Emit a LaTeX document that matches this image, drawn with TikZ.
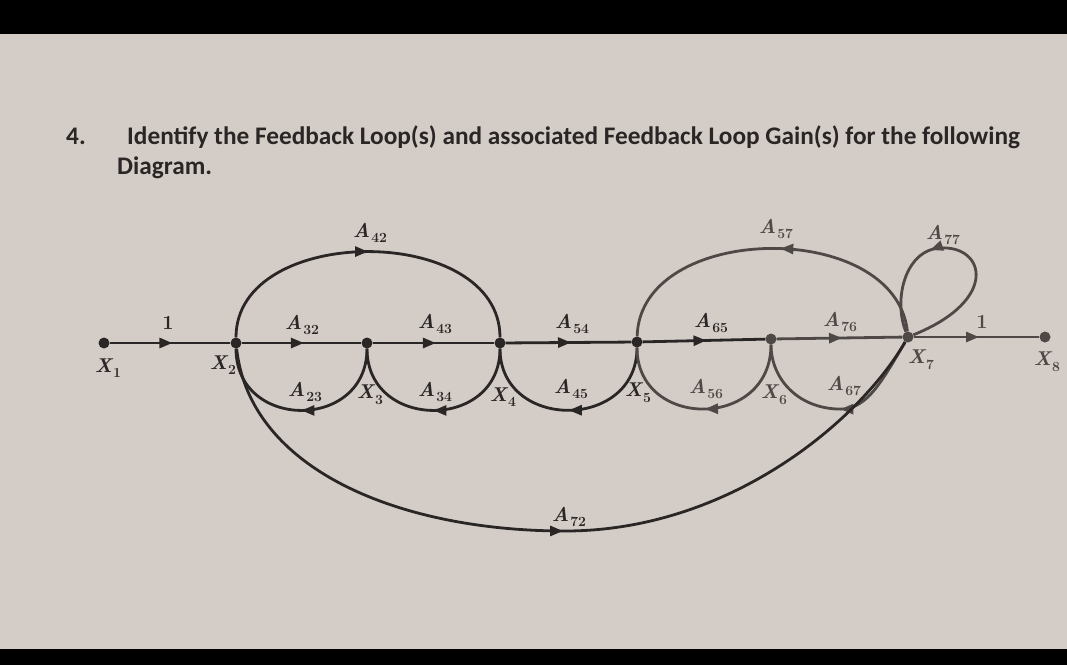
\documentclass[tikz,border=0pt]{standalone}
\usepackage{fontspec}
\newfontfamily\calibri{Carlito}
\usetikzlibrary{arrows.meta,decorations.markings}
\definecolor{paper}{RGB}{212,205,199}
\definecolor{ink}{RGB}{42,38,38}
\definecolor{inkl}{RGB}{78,73,71}
\newcommand{\glab}[2]{{\bfseries\itshape #1}\kern1pt\raisebox{-0.28em}{\fontsize{14}{14}\selectfont\bfseries\upshape #2}}
\tikzset{
  dot/.style={circle, fill=ink, inner sep=0pt, minimum size=11pt},
  dotl/.style={circle, fill=inkl, inner sep=0pt, minimum size=11pt},
  flow/.style={draw=ink, line width=2.8pt, postaction={decorate},
    decoration={markings, mark=at position #1 with {\arrow{Triangle[length=13pt,width=10pt]}}}},
  flow/.default=0.52,
  flowl/.style={flow=#1, draw=inkl},
  flowl/.default=0.52,
  lbl/.style={font=\fontsize{20}{22}\selectfont, text=ink, inner sep=0pt},
  lbll/.style={lbl, text=inkl},
  ttl/.style={anchor=base west, inner sep=0pt, text=ink, font=\calibri\bfseries\fontsize{25.3}{30}\selectfont},
}
\begin{document}
\begin{tikzpicture}[x=1pt,y=-1pt]
\fill[paper] (0,0) rectangle (1067,665);
\fill[black] (0,0) rectangle (1067,34);
\fill[black] (0,649) rectangle (1067,665);
\useasboundingbox (0,0) rectangle (1067,665);

% title
\node[ttl] (num) at (66,144) {4.};
\node[ttl] (t1) at (127,144) {Identify the Feedback Loop(s) and associated Feedback Loop Gain(s) for the following};
\node[ttl] (t2) at (117,174) {Diagram.};

% nodes
\node[dot] (X1) at (104,343) {};
\node[dot] (X2) at (236,343) {};
\node[dot] (X3) at (367,343) {};
\node[dot] (X4) at (500,343) {};
\node[dot] (X5) at (637,342) {};
\node[dotl] (X6) at (771,339) {};
\node[dotl] (X7) at (908,337) {};
\node[dotl] (X8) at (1045,337) {};

% forward branches
\draw[flow] (X1) -- (X2);
\draw[flow] (X2) -- (X3);
\draw[flow] (X3) -- (X4);
\draw[flow] (X4) -- (X5);
\draw[flow] (X5) -- (X6);
\draw[flowl] (X6) -- (X7);
\draw[flowl] (X7) -- (X8);

% upper arcs
\draw[flow=0.5] (X2) .. controls (236,223) and (500,223) .. (X4);
\draw[flowl=0.47] (X7) .. controls (895,218) and (640,222) .. (X5);
% self loop
\draw[flowl=0.62] (X7) .. controls (1000,300) and (985,245) .. (940,248)
   .. controls (905,250) and (893,300) .. (X7);

% lower arcs (feedback)
\draw[flow=0.5] (X3) .. controls (367,431) and (236,431) .. (X2);
\draw[flow=0.5] (X4) .. controls (500,431) and (367,431) .. (X3);
\draw[flow=0.5] (X5) .. controls (637,431) and (500,431) .. (X4);
\draw[flowl=0.5] (X6) .. controls (771,430) and (637,430) .. (X5);
\draw[flowl=0.48] (X7) .. controls (880,385) and (868,405) .. (845,409)
   .. controls (800,411) and (771,380) .. (X6);

% big lower arc
\draw[flow=0.5] (X2) .. controls (250,470) and (400,531) .. (565,531)
   .. controls (730,531) and (860,420) .. (X7);

% branch labels
\node[lbl] (g21) at (168,323) {\bfseries 1};
\node[lbl] (g32) at (302,325) {\glab{A}{32}};
\node[lbl] (g43) at (435,324) {\glab{A}{43}};
\node[lbl] (g54) at (572,324) {\glab{A}{54}};
\node[lbl] (g65) at (711,323) {\glab{A}{65}};
\node[lbll] (g76) at (840,322) {\glab{A}{76}};
\node[lbll] (g87) at (982,322) {\bfseries 1};
\node[lbl] (g42) at (370,233) {\glab{A}{42}};
\node[lbll] (g57) at (776,229) {\glab{A}{57}};
\node[lbll] (g77) at (943,235) {\glab{A}{77}};
\node[lbl] (g23) at (305,392) {\glab{A}{23}};
\node[lbl] (g34) at (435,392) {\glab{A}{34}};
\node[lbl] (g45) at (571,389) {\glab{A}{45}};
\node[lbll] (g56) at (706,389) {\glab{A}{56}};
\node[lbll] (g67) at (844,386) {\glab{A}{67}};
\node[lbl] (g72) at (569,517) {\glab{A}{72}};

% node labels
\node[lbl] (n1) at (108,368) {\glab{X}{1}};
\node[lbl] (n2) at (223,365) {\glab{X}{2}};
\node[lbl] (n3) at (370,395) {\glab{X}{3}};
\node[lbl] (n4) at (503,397) {\glab{X}{4}};
\node[lbl] (n5) at (638,393) {\glab{X}{5}};
\node[lbll] (n6) at (774,395) {\glab{X}{6}};
\node[lbll] (n7) at (921,360) {\glab{X}{7}};
\node[lbll] (n8) at (1047,362) {\glab{X}{8}};
\end{tikzpicture}
\end{document}
